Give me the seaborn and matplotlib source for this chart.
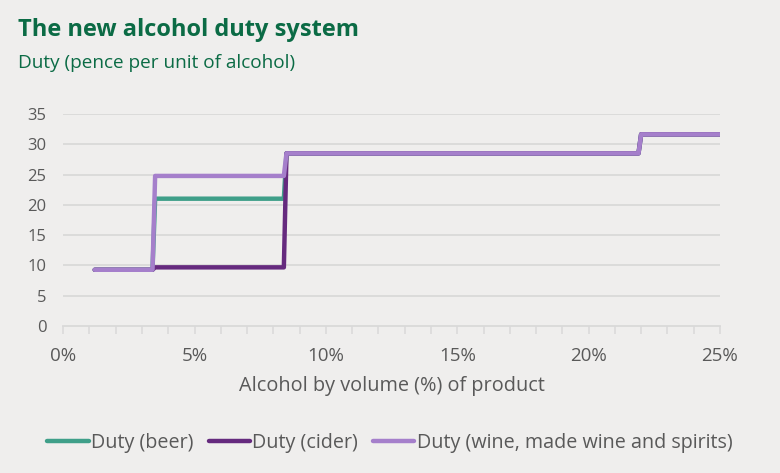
import matplotlib

matplotlib.use("Agg")
import matplotlib.pyplot as plt
import numpy as np
import pandas
import seaborn as sns
from matplotlib.ticker import FixedLocator, FuncFormatter
from pandas import DataFrame

# Alcohol by volume (%) break points
abv = [1.2, 3.4, 3.5, 8.4, 8.5, 21.9, 22.0, 25.0]

# Duty (pence per unit of alcohol)
duty_beer = [9.27, 9.27, 21.01, 21.01, 28.50, 28.50, 31.64, 31.64]
duty_cider = [9.27, 9.27, 9.67, 9.67, 28.50, 28.50, 31.64, 31.64]
duty_wine = [9.27, 9.27, 24.77, 24.77, 28.50, 28.50, 31.64, 31.64]

series_names = [
    "Duty (beer)",
    "Duty (cider)",
    "Duty (wine, made wine and spirits)",
]
series_colors = ["#3f9f89", "#652a7e", "#a57fcb"]

y_ticks = [0, 5, 10, 15, 20, 25, 30, 35]
x_ticks = [0, 5, 10, 15, 20, 25]

BG = "#efeeed"
GRID = "#d9d9d9"
GREEN = "#0b6b45"
GREY = "#595959"


def build_frame() -> DataFrame:
    frames = []
    for name, values in zip(series_names, [duty_beer, duty_cider, duty_wine]):
        frames.append(DataFrame({"abv": abv, "duty": values, "series": name}))
    return pandas.concat(frames, ignore_index=True)


def plot(df: DataFrame) -> None:
    sns.set_style("white")
    plt.rcParams["font.family"] = ["Open Sans", "DejaVu Sans"]

    fig = plt.figure(figsize=(7.8, 4.73), dpi=100, facecolor=BG)
    ax = fig.add_axes([0.081, 0.311, 0.842, 0.448], facecolor=BG)

    sns.lineplot(
        data=df,
        x="abv",
        y="duty",
        hue="series",
        hue_order=series_names,
        palette=series_colors,
        linewidth=3.2,
        solid_capstyle="round",
        legend=False,
        ax=ax,
        sort=False,
    )

    ax.set_xlim(0, 25)
    ax.set_ylim(0, 35)
    ax.set_yticks(y_ticks)
    ax.set_xticks(x_ticks)
    ax.xaxis.set_minor_locator(FixedLocator(np.arange(0, 26, 1)))
    ax.xaxis.set_major_formatter(FuncFormatter(lambda v, _: f"{int(v)}%"))

    # Gridlines and axis styling
    for y in y_ticks[1:]:
        ax.axhline(y, color=GRID, linewidth=1.3, zorder=0)
    for side in ["top", "right", "left"]:
        ax.spines[side].set_visible(False)
    ax.spines["bottom"].set_color(GRID)
    ax.spines["bottom"].set_linewidth(1.3)
    ax.spines["bottom"].set_zorder(0)

    ax.tick_params(axis="y", left=False, length=0, pad=12, labelsize=12,
                   labelcolor=GREY)
    ax.tick_params(
        axis="x", which="both", bottom=True, length=6, width=1.1, color=GRID,
        direction="out", pad=9, labelsize=13.5, labelcolor=GREY,
    )

    ax.set_xlabel("Alcohol by volume (%) of product", fontsize=14.3, color=GREY,
                  labelpad=8)
    ax.set_ylabel("")

    fig.text(0.023, 0.937, "The new alcohol duty system", fontsize=17,
             fontweight="bold", color=GREEN, va="center", ha="left")
    fig.text(0.023, 0.866, "Duty (pence per unit of alcohol)", fontsize=13.7,
             color=GREEN, va="center", ha="left")

    handles = [
        plt.Line2D([], [], color=c, linewidth=3.2, solid_capstyle="round")
        for c in series_colors
    ]
    fig.legend(
        handles, series_names, loc="center", bbox_to_anchor=(0.5, 0.063),
        ncol=3, frameon=False, fontsize=14.2, handlelength=2.1,
        handletextpad=0.12, columnspacing=0.75, labelcolor=GREY,
    )

    fig.savefig("out.png", dpi=100, facecolor=BG)
    plt.close(fig)


def main() -> None:
    plot(df=build_frame())


if __name__ == "__main__":
    main()
